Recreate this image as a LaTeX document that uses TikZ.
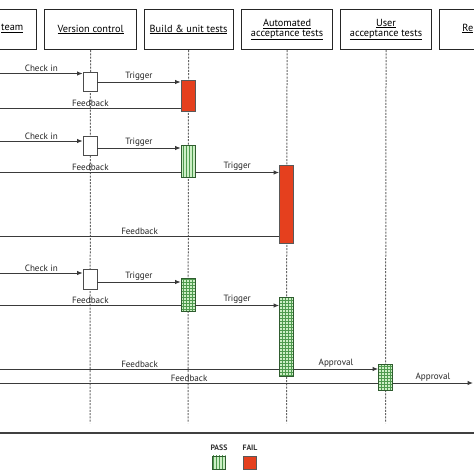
\documentclass[tikz,border=0pt]{standalone}
\usepackage{fontspec}
\setmainfont{PT Sans}
\usetikzlibrary{arrows.meta,patterns}
\definecolor{failred}{HTML}{E5401E}
\definecolor{passgreen}{HTML}{CDEFC6}
\definecolor{passdark}{HTML}{4E9A4E}
\definecolor{ink}{HTML}{3A3A3A}
\tikzset{
  hdr/.style={draw=black!85, line width=1.1pt, minimum height=40pt, inner sep=0pt, font=\fontsize{10.3}{11.5}\selectfont, align=center, anchor=north west},
  life/.style={draw=black!60, line width=1pt, dash pattern=on 2pt off 1.3pt},
  actbox/.style={draw=black!70, line width=0.7pt, minimum width=14pt, inner sep=0pt, anchor=north},
  wbox/.style={actbox, fill=white},
  failbox/.style={actbox, fill=failred, draw=black!65},
  passv/.style={actbox, draw=passdark!60!black, preaction={fill=passgreen}, pattern=vertical lines, pattern color=passdark},
  passg/.style={actbox, draw=passdark!60!black, preaction={fill=passgreen}, pattern=grid, pattern color=passdark},
  msg/.style={draw=ink, line width=1pt, -{Latex[length=5.5pt,width=4.5pt]}},
  fb/.style={draw=ink, line width=1pt},
  lbl/.style={font=\fontsize{9.1}{10}\selectfont, inner sep=1.2pt, text=black!85},
  leg/.style={font=\fontsize{7.8}{9}\selectfont\bfseries, inner sep=0pt, text=black!80}
}
\begin{document}
\begin{tikzpicture}[x=1pt,y=-1pt]
\useasboundingbox (0,0) rectangle (474,474);
\clip (0,0) rectangle (474,474);
\fill[white] (0,0) rectangle (474,474);
% headers
\node[hdr, minimum width=60pt] (hdev) at (-24,9) {};
\node[font=\fontsize{10.3}{11.5}\selectfont, anchor=east, inner sep=0pt] (tdev) at (23.5,28.5) {\underline{team}};
\node[hdr, minimum width=92pt] (hvc) at (44,9) {\underline{Version control}};
\node[hdr, minimum width=89pt] (hbu) at (143.5,9) {\underline{Build \& unit tests}};
\node[hdr, minimum width=91pt] (hat) at (241,9) {\underline{Automated}\\[-1.5pt]\underline{acceptance tests}};
\node[hdr, minimum width=91pt] (hua) at (340,9) {\underline{User}\\[-1.5pt]\underline{acceptance tests}};
\node[hdr, minimum width=60pt] (hre) at (438.5,9) {};
\node[font=\fontsize{10.3}{11.5}\selectfont, anchor=east, inner sep=0pt] (tre) at (473.5,28.5) {\underline{Re}};
% lifelines
\coordinate (endvc) at (90,423);
\coordinate (endbu) at (188,423);
\coordinate (endat) at (286.5,423);
\coordinate (endua) at (385.5,423);
\draw[life] (hvc.south) -- (endvc);
\draw[life] (hbu.south) -- (endbu);
\draw[life] (hat.south) -- (endat);
\draw[life] (hua.south) -- (endua);
% ---------- round 1
\node[wbox, minimum height=19pt] (v1) at (90,72) {};
\node[failbox, minimum height=31pt] (b1) at (188,80) {};
\coordinate (c1) at (0,73.5);
\coordinate (t1) at (0,82);
\coordinate (f1) at (0,108.5);
\draw[msg] (c1) -- node[lbl, above] {Check in} (c1 -| v1.west);
\draw[msg] (t1 -| v1.east) -- node[lbl, above] {Trigger} (t1 -| b1.west);
\draw[fb] (f1 -| b1.west) -- node[lbl, above, pos=0.5] {Feedback} (f1);
% ---------- round 2
\node[wbox, minimum height=19pt] (v2) at (90,136) {};
\node[passv, minimum height=32pt] (b2) at (188,145) {};
\node[failbox, minimum height=78pt] (a2) at (286.5,165) {};
\coordinate (c2) at (0,141);
\coordinate (t2) at (0,148);
\coordinate (f2) at (0,172.5);
\coordinate (f2b) at (0,236);
\draw[msg] (c2) -- node[lbl, above] {Check in} (c2 -| v2.west);
\draw[msg] (t2 -| v2.east) -- node[lbl, above] {Trigger} (t2 -| b2.west);
\draw[fb] (f2 -| b2.west) -- node[lbl, above] {Feedback} (f2);
\draw[msg] (f2 -| b2.east) -- node[lbl, above] {Trigger} (f2 -| a2.west);
\draw[fb] (f2b -| a2.west) -- node[lbl, above] {Feedback} (f2b);
% ---------- round 3
\node[wbox, minimum height=20pt] (v3) at (90,269) {};
\node[passg, minimum height=33pt] (b3) at (188,278) {};
\node[passg, minimum height=79pt] (a3) at (286.5,297) {};
\node[passg, minimum height=26pt] (u3) at (385.5,364) {};
\coordinate (c3) at (0,273);
\coordinate (t3) at (0,282);
\coordinate (f3) at (0,305.5);
\coordinate (f3b) at (0,369);
\coordinate (f3c) at (0,383);
\coordinate (rel) at (473,383);
\draw[msg] (c3) -- node[lbl, above] {Check in} (c3 -| v3.west);
\draw[msg] (t3 -| v3.east) -- node[lbl, above] {Trigger} (t3 -| b3.west);
\draw[fb] (f3 -| b3.west) -- node[lbl, above] {Feedback} (f3);
\draw[msg] (f3 -| b3.east) -- node[lbl, above] {Trigger} (f3 -| a3.west);
\draw[fb] (f3b -| a3.west) -- node[lbl, above] {Feedback} (f3b);
\draw[msg] (f3b -| a3.east) -- node[lbl, above] {Approval} (f3b -| u3.west);
\draw[fb] (f3c -| u3.west) -- node[lbl, above] {Feedback} (f3c);
\draw[msg] (f3c -| u3.east) -- node[lbl, above] {Approval} (rel);
% bottom rule
\coordinate (bl) at (0,433);
\coordinate (br) at (474,433);
\draw[draw=black!75, line width=1.4pt] (bl) -- (br);
% legend
\node[passv, minimum height=13pt, minimum width=13pt] (lp) at (219,455.5) {};
\node[failbox, minimum height=13pt, minimum width=13pt] (lf) at (250,455.5) {};
\node[leg] at (219,448) {PASS};
\node[leg] at (250,448) {FAIL};
\end{tikzpicture}
\end{document}
